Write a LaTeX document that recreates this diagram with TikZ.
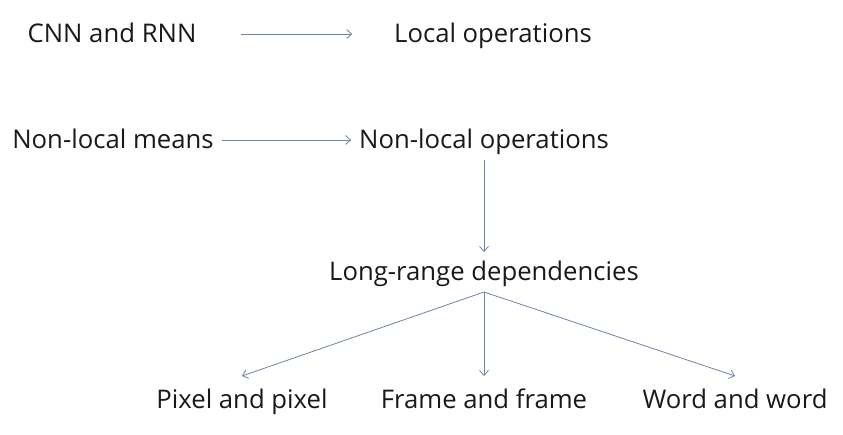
\documentclass[tikz,border=0pt]{standalone}
\usepackage{fontspec}
\setmainfont{Open Sans}
\usepackage{tikz}
\usetikzlibrary{arrows.meta}

\definecolor{arrowblue}{RGB}{110,130,170}
\definecolor{textgray}{RGB}{25,25,25}

\begin{document}
\begin{tikzpicture}[x=1pt,y=-1pt,
    >={Straight Barb[length=5pt,width=9pt]},
    link/.style={->,draw=arrowblue,line width=0.8pt}]
\tikzset{Label/.style = {anchor=base,inner sep=0pt,
                         text height=18pt,text depth=0pt,
                         outer ysep=11pt,outer xsep=8pt,
                         text=textgray,
                         font=\fontsize{25.7}{30}\selectfont}}
\useasboundingbox (0,0) rectangle (843,435);

\node[Label] (cnn)    at (112,43)  {CNN and RNN};
\node[Label] (local)  at (493,43)  {Local operations};
\node[Label] (means)  at (113,149) {Non-local means};
\node[Label] (nonloc) at (484,149) {Non-local operations};
\node[Label] (long)   at (484,281) {Long-range dependencies};
\node[Label,outer ysep=14pt] (pixel) at (242,408) {Pixel and pixel};
\node[Label,outer ysep=14pt] (frame) at (484,408) {Frame and frame};
\node[Label,outer ysep=14pt] (word)  at (735,408) {Word and word};

\draw[link,shorten <=37pt,shorten >=34pt] (cnn) -- (local);
\draw[link] (means) -- (nonloc);
\draw[link] (nonloc) -- (long);
% three branches leave from one point under the middle node
\draw[link] (long.south) -- (pixel.north);
\draw[link] (long.south) -- (frame.north);
\draw[link] (long.south) -- (word.north);
\end{tikzpicture}
\end{document}
